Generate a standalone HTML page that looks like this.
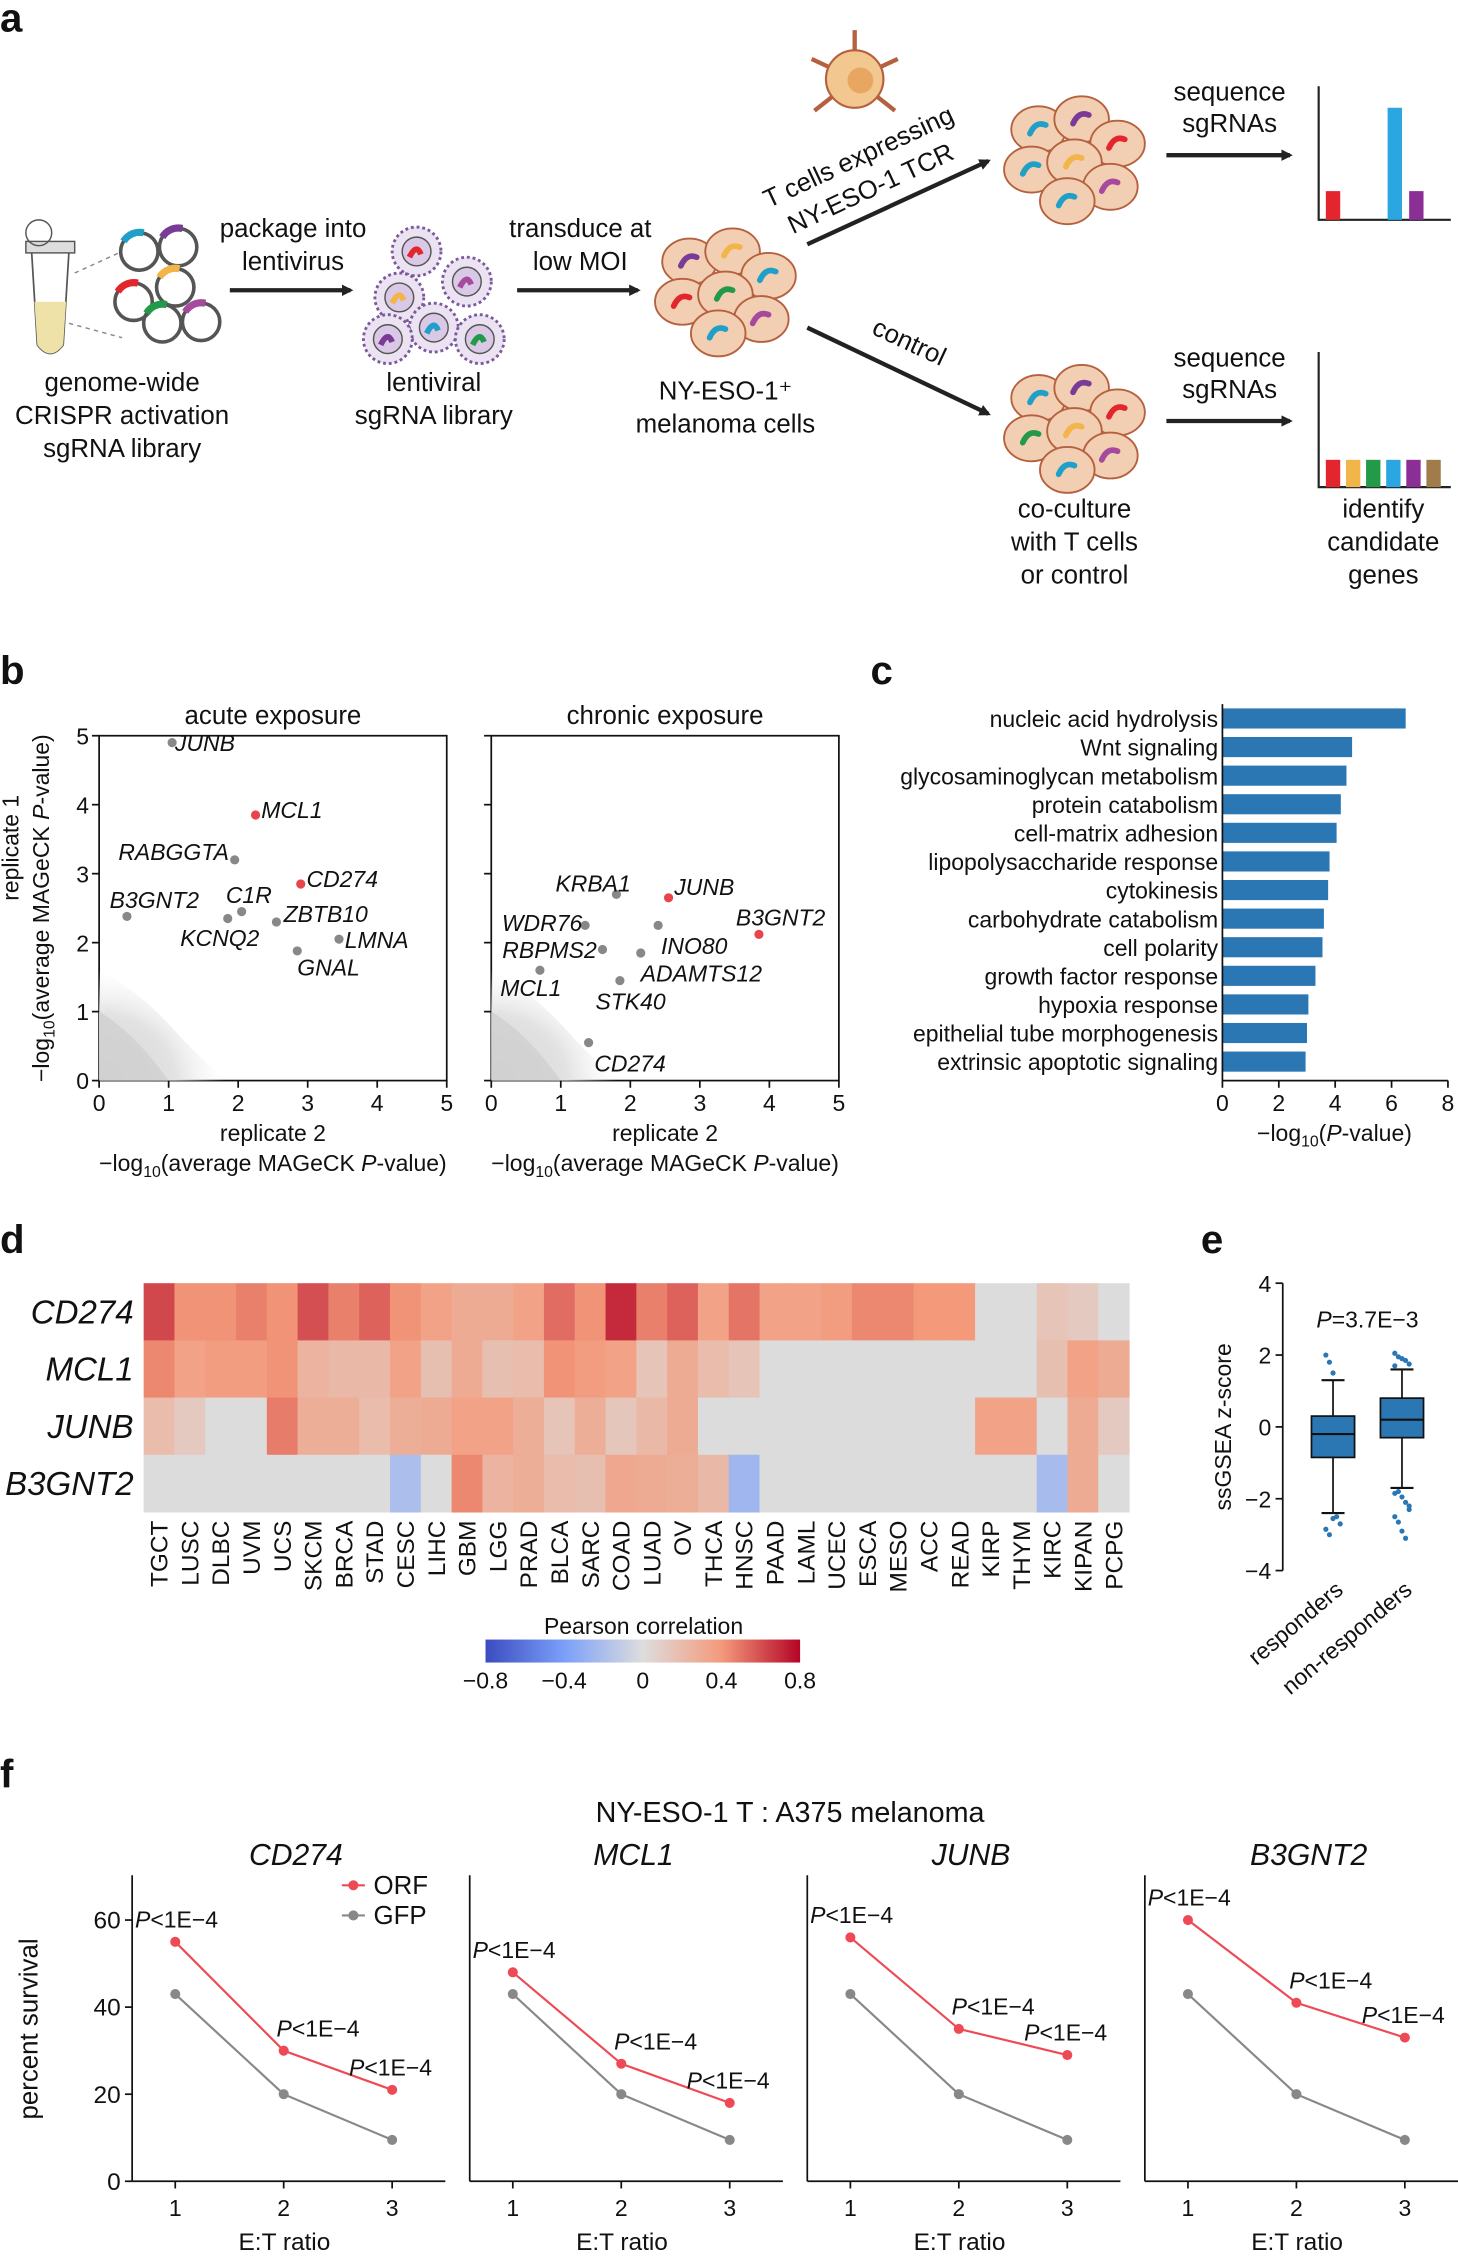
<!DOCTYPE html>
<html><head><meta charset="utf-8"><style>
html,body{margin:0;padding:0;background:#fff}
svg{display:block;font-family:"Liberation Sans",Arial,sans-serif}
</style></head><body>
<svg id="fig" width="1458" height="2256" viewBox="0 0 1015 1570" preserveAspectRatio="none" xmlns="http://www.w3.org/2000/svg">
<defs>
<marker id="ah" markerWidth="8" markerHeight="8" refX="6" refY="4" orient="auto" markerUnits="userSpaceOnUse" viewBox="0 0 8 8"><path d="M0,0 L8,4 L0,8 z" fill="#222"/></marker>
<linearGradient id="cbar" x1="0" x2="1" y1="0" y2="0">
<stop offset="0" stop-color="#3b4cc0"/><stop offset="0.25" stop-color="#7b9ff9"/><stop offset="0.5" stop-color="#dddddd"/><stop offset="0.75" stop-color="#f49a7b"/><stop offset="1" stop-color="#b40426"/></linearGradient>
<radialGradient id="cloud" cx="0" cy="1" r="1"><stop offset="0" stop-color="#d4d4d4"/><stop offset="0.6" stop-color="#e2e2e2"/><stop offset="1" stop-color="#f4f4f4" stop-opacity="0"/></radialGradient>
</defs>
<g id="root"></g>
</svg>
<script>
// ===== data arrays =====
const acuteGenes=["JUNB","MCL1","RABGGTA","CD274","B3GNT2","C1R","KCNQ2","ZBTB10","LMNA","GNAL"];
const acuteX=[1.05,2.25,1.95,2.9,0.4,2.05,1.85,2.55,3.45,2.85];
const acuteY=[4.9,3.85,3.2,2.85,2.38,2.45,2.35,2.3,2.05,1.88];
const acuteRed=[0,1,0,1,0,0,0,0,0,0];
const chronGenes=["KRBA1","JUNB","WDR76","INO80","B3GNT2","RBPMS2","ADAMTS12","MCL1","STK40","CD274"];
const chronX=[1.8,2.55,1.35,2.4,3.85,1.6,2.15,0.7,1.85,1.4];
const chronY=[2.7,2.65,2.25,2.25,2.12,1.9,1.85,1.6,1.45,0.55];
const chronRed=[0,1,0,0,1,0,0,0,0,0];
const goTerms=["nucleic acid hydrolysis","Wnt signaling","glycosaminoglycan metabolism","protein catabolism","cell-matrix adhesion","lipopolysaccharide response","cytokinesis","carbohydrate catabolism","cell polarity","growth factor response","hypoxia response","epithelial tube morphogenesis","extrinsic apoptotic signaling"];
const goValues=[6.5,4.6,4.4,4.2,4.05,3.8,3.75,3.6,3.55,3.3,3.05,3.0,2.95];
const cancers=["TGCT","LUSC","DLBC","UVM","UCS","SKCM","BRCA","STAD","CESC","LIHC","GBM","LGG","PRAD","BLCA","SARC","COAD","LUAD","OV","THCA","HNSC","PAAD","LAML","UCEC","ESCA","MESO","ACC","READ","KIRP","THYM","KIRC","KIPAN","PCPG"];
const heatGenes=["CD274","MCL1","JUNB","B3GNT2"];
const N=null;
const corCD274=[.62,.42,.42,.47,.42,.6,.47,.55,.42,.35,.3,.3,.35,.52,.42,.7,.47,.55,.35,.5,.35,.35,.38,.45,.45,.4,.4,N,N,.15,.12,N];
const corMCL1=[.45,.35,.38,.38,.42,.25,.22,.22,.35,.18,.3,.18,.2,.42,.38,.35,.15,.3,.2,.15,N,N,N,N,N,N,N,N,N,.18,.35,.3];
const corJUNB=[.2,.12,N,N,.48,.28,.28,.2,.28,.3,.35,.35,.28,.15,.28,.14,.22,.3,N,N,N,N,N,N,N,N,N,.35,.35,N,.3,.12];
const corB3GNT2=[N,N,N,N,N,N,N,N,-.2,N,.45,.25,.28,.2,.18,.32,.3,.28,.22,-.25,N,N,N,N,N,N,N,N,N,-.22,.3,N];
const boxLabels=["responders","non-responders"];
const boxQ1=[-0.85,-0.3],boxMed=[-0.2,0.2],boxQ3=[0.3,0.8],boxLo=[-2.4,-1.7],boxHi=[1.3,1.6];
const outR=[2.0,1.8,1.5,-2.5,-2.7,-2.85,-3.0,-2.55];
const outN=[2.05,1.95,1.9,1.85,1.75,1.7,-1.8,-1.95,-2.1,-2.3,-2.5,-2.65,-2.9,-3.1,-2.2,-1.85];
const survGenes=["CD274","MCL1","JUNB","B3GNT2"];
const etRatios=[1,2,3];
const orfCD274=[55,30,21],orfMCL1=[48,27,18],orfJUNB=[56,35,29],orfB3GNT2=[60,41,33];
const gfpVals=[43,20,9.5];
const yTicksF=[0,20,40,60];

// ===== helpers =====
const NS="http://www.w3.org/2000/svg";
const root=document.getElementById('root');
function E(tag,attrs,parent,txt){const e=document.createElementNS(NS,tag);for(const k in attrs)e.setAttribute(k,attrs[k]);if(txt!==undefined)e.textContent=txt;(parent||root).appendChild(e);return e;}
function T(x,y,s,size,opt,parent){opt=opt||{};const a={x:x,y:y,'font-size':size,fill:opt.fill||'#111'};if(opt.anchor)a['text-anchor']=opt.anchor;if(opt.italic)a['font-style']='italic';if(opt.bold)a['font-weight']='bold';if(opt.transform)a.transform=opt.transform;return E('text',a,parent,s);}
function L(x1,y1,x2,y2,c,w,parent){return E('line',{x1:x1,y1:y1,x2:x2,y2:y2,stroke:c||'#111','stroke-width':w||1.2},parent);}

// panel letters
[["a",0,22],["b",0,476],["c",606,476],["d",0,872],["e",836,872],["f",0,1244]].forEach(p=>{const t=T(p[1],p[2],p[0],28,{bold:true});});

// ===== panel a =====
const ga=E('g',{},root);
E('path',{d:"M22,175 L48,175 L44,240 Q35,252 26,240 Z",fill:"#fff",stroke:"#555","stroke-width":1.2},ga);
E('path',{d:"M24,210 L46,210 L44,240 Q35,252 26,240 Z",fill:"#efe2a8"},ga);
E('rect',{x:18,y:168,width:34,height:8,fill:"#ddd",stroke:"#555"},ga);
E('circle',{cx:27,cy:162,r:9,fill:"none",stroke:"#555"},ga);
L(52,190,85,175,"#888",1,ga).setAttribute('stroke-dasharray','3,3');
L(48,225,85,235,"#888",1,ga).setAttribute('stroke-dasharray','3,3');
[[97,175,"#20a0c8"],[124,172,"#7a3b96"],[122,200,"#f1b54a"],[93,210,"#e3262e"],[113,225,"#239a48"],[140,224,"#a64a9c"]].forEach(c=>{E('circle',{cx:c[0],cy:c[1],r:13,fill:"none",stroke:"#555","stroke-width":2.5},ga);E('path',{d:`M${c[0]-11},${c[1]-7} A13,13 0 0 1 ${c[0]+3},${c[1]-13}`,fill:"none",stroke:c[2],"stroke-width":5},ga);});
T(85,272,"genome-wide",18,{anchor:'middle'},ga);T(85,295,"CRISPR activation",18,{anchor:'middle'},ga);T(85,318,"sgRNA library",18,{anchor:'middle'},ga);
E('line',{x1:160,y1:202,x2:244,y2:202,stroke:"#222","stroke-width":3,'marker-end':'url(#ah)'},ga);
T(204,165,"package into",18,{anchor:'middle'},ga);T(204,188,"lentivirus",18,{anchor:'middle'},ga);
[[290,175,"#e3262e"],[325,196,"#a64a9c"],[278,207,"#f1b54a"],[302,228,"#20a0c8"],[270,236,"#7a3b96"],[334,236,"#239a48"]].forEach(v=>{E('circle',{cx:v[0],cy:v[1],r:17,fill:"#ece3f2",stroke:"#7a5a9c","stroke-width":2,'stroke-dasharray':'2,2'},ga);E('circle',{cx:v[0],cy:v[1],r:10,fill:"#d9c8e6",stroke:"#555"},ga);E('path',{d:`M${v[0]-5},${v[1]+4} q5,-10 8,-2`,stroke:v[2],'stroke-width':4,fill:'none'},ga);});
T(302,272,"lentiviral",18,{anchor:'middle'},ga);T(302,295,"sgRNA library",18,{anchor:'middle'},ga);
E('line',{x1:360,y1:202,x2:444,y2:202,stroke:"#222","stroke-width":3,'marker-end':'url(#ah)'},ga);
T(404,165,"transduce at",18,{anchor:'middle'},ga);T(404,188,"low MOI",18,{anchor:'middle'},ga);
function cluster(cx,cy,cols){const pos=[[-25,-18],[5,-25],[30,-8],[-30,10],[0,5],[25,22],[-5,32]];pos.forEach((p,i)=>{E('ellipse',{cx:cx+p[0],cy:cy+p[1],rx:19,ry:16,fill:"#f2cfb2",stroke:"#b5603e","stroke-width":1.3},ga);E('path',{d:`M${cx+p[0]-6},${cy+p[1]+3} q4,-9 11,-6`,stroke:cols[i%cols.length],'stroke-width':4,fill:'none','stroke-linecap':'round'},ga);});}
cluster(505,200,["#7a3b96","#f1b54a","#20a0c8","#e3262e","#239a48","#a64a9c","#20a0c8"]);
T(505,278,"NY-ESO-1⁺",18,{anchor:'middle'},ga);T(505,301,"melanoma cells",18,{anchor:'middle'},ga);
E('line',{x1:562,y1:170,x2:688,y2:112,stroke:"#222","stroke-width":3,'marker-end':'url(#ah)'},ga);
E('line',{x1:562,y1:228,x2:688,y2:288,stroke:"#222","stroke-width":3,'marker-end':'url(#ah)'},ga);
T(0,0,"T cells expressing",18,{transform:'translate(535,145) rotate(-25)'},ga);
T(0,0,"NY-ESO-1 TCR",18,{transform:'translate(552,163) rotate(-25)'},ga);
T(0,0,"control",18,{transform:'translate(606,232) rotate(25)'},ga);
[[0,-34],[30,-14],[28,22],[-28,22],[-30,-14]].forEach(b=>{L(595,55,595+b[0],55+b[1],"#b5603e",3,ga);});
E('circle',{cx:595,cy:55,r:20,fill:"#f3c790",stroke:"#b5603e","stroke-width":1.5},ga);
E('circle',{cx:599,cy:56,r:9,fill:"#e7a760"},ga);
cluster(748,108,["#20a0c8","#7a3b96","#e3262e","#20a0c8","#f1b54a","#a64a9c","#20a0c8"]);
cluster(748,295,["#20a0c8","#7a3b96","#e3262e","#239a48","#f1b54a","#a64a9c","#20a0c8"]);
T(748,360,"co-culture",18,{anchor:'middle'},ga);T(748,383,"with T cells",18,{anchor:'middle'},ga);T(748,406,"or control",18,{anchor:'middle'},ga);
E('line',{x1:812,y1:108,x2:898,y2:108,stroke:"#222","stroke-width":3,'marker-end':'url(#ah)'},ga);
E('line',{x1:812,y1:293,x2:898,y2:293,stroke:"#222","stroke-width":3,'marker-end':'url(#ah)'},ga);
T(856,70,"sequence",18,{anchor:'middle'},ga);T(856,92,"sgRNAs",18,{anchor:'middle'},ga);
T(856,255,"sequence",18,{anchor:'middle'},ga);T(856,277,"sgRNAs",18,{anchor:'middle'},ga);
E('path',{d:"M918,60 L918,153 L1010,153",fill:"none",stroke:"#222","stroke-width":1.5},ga);
E('rect',{x:923,y:133,width:10,height:20,fill:"#e3262e"},ga);E('rect',{x:966,y:75,width:10,height:78,fill:"#2aa7e0"},ga);E('rect',{x:981,y:133,width:10,height:20,fill:"#8b2f97"},ga);
E('path',{d:"M918,245 L918,339 L1010,339",fill:"none",stroke:"#222","stroke-width":1.5},ga);
["#e3262e","#f1b54a","#239a48","#2aa7e0","#8b2f97","#a07c4a"].forEach((c,i)=>E('rect',{x:923+i*14,y:320,width:10,height:19,fill:c},ga));
T(963,360,"identify",18,{anchor:'middle'},ga);T(963,383,"candidate",18,{anchor:'middle'},ga);T(963,406,"genes",18,{anchor:'middle'},ga);

// ===== panel b =====
function scatter(x0,title,genes,xs,ys,reds,name,labelOff){
 const g=E('g',{},root);
 const W=242,y0=752,H=240;const sx=v=>x0+v/5*W,sy=v=>y0-v/5*H;
 E('rect',{x:x0,y:y0-H,width:W,height:H,fill:"none",stroke:"#111","stroke-width":1.2},g);
 E('path',{d:`M${sx(0)},${sy(0)} L${sx(0)},${sy(1.6)} Q${sx(0.6)},${sy(1.3)} ${sx(1.2)},${sy(0.6)} L${sx(1.8)},${sy(0)} Z`,fill:"url(#cloud)"},g);
 E('path',{d:`M${sx(0)},${sy(0)} L${sx(0)},${sy(1.0)} Q${sx(0.5)},${sy(0.7)} ${sx(1.0)},${sy(0)} Z`,fill:"#d0d0d0",opacity:0.8},g);
 for(let i=0;i<=5;i++){L(sx(i),y0,sx(i),y0+5,"#111",1.2,g);T(sx(i),y0+21,String(i),16,{anchor:'middle'},g);L(x0-5,sy(i),x0,sy(i),"#111",1.2,g);}
 T(x0+W/2,y0-H-8,title,18,{anchor:'middle'},g);
 genes.forEach((gn,i)=>{const c=E('circle',{cx:sx(xs[i]),cy:sy(ys[i]),r:3.2,fill:reds[i]?"#e8454a":"#888"},g);
  const o=labelOff[i];T(sx(xs[i])+o[0],sy(ys[i])+o[1],gn,16,{italic:true,anchor:o[2]||'start'},g);});
}
scatter(69,"acute exposure",acuteGenes,acuteX,acuteY,acuteRed,"scatter-acute",[[2,6],[4,2],[-4,0,'end'],[4,2],[-12,-6],[-11,-6],[22,19,'end'],[5,0],[4,6],[0,17]]);
for(let i=0;i<=5;i++)T(62,752-i*48+6,String(i),16,{anchor:'end'});
scatter(342,"chronic exposure",chronGenes,chronX,chronY,chronRed,"scatter-chronic",[[10,-2,'end'],[4,-2],[-2,4,'end'],[2,20],[-16,-6],[-4,6,'end'],[0,20],[15,18,'end'],[-17,20],[4,20]]);
T(190,794,"replicate 2",16,{anchor:'middle'});T(463,794,"replicate 2",16,{anchor:'middle'});
function pLabel(cx,y){const t=E('text',{x:cx,y:y,'font-size':16,'text-anchor':'middle',fill:'#111'});t.innerHTML='−log<tspan font-size="11" dy="4">10</tspan><tspan dy="-4">(average MAGeCK </tspan><tspan font-style="italic">P</tspan>-value)';return t;}
pLabel(190,815);pLabel(463,815);
T(0,0,"replicate 1",16,{anchor:'middle',transform:'translate(13,590) rotate(-90)'});
(function(){const t=E('text',{x:0,y:0,'font-size':16,'text-anchor':'middle',fill:'#111',transform:'translate(34,632) rotate(-90)'});t.innerHTML='−log<tspan font-size="11" dy="4">10</tspan><tspan dy="-4">(average MAGeCK </tspan><tspan font-style="italic">P</tspan>-value)';})();

// ===== panel c =====
(function(){const g=E('g',{},root);
 const x0=851,x1=1008,yTop=490,step=19.9;const sx=v=>x0+v/8*(x1-x0);
 goTerms.forEach((t,i)=>{const yc=yTop+10+i*step;const r=E('rect',{x:x0,y:yc-7,width:sx(goValues[i])-x0,height:14,fill:"#2a77b4"},g);T(x0-3,yc+6,t,16,{anchor:'end'},g);});
 L(x0,yTop,x0,752,"#111",1.2,g);L(x0,752,x1,752,"#111",1.2,g);
 [0,2,4,6,8].forEach(v=>{L(sx(v),752,sx(v),757,"#111",1.2,g);T(sx(v),773,String(v),16,{anchor:'middle'},g);});
 const t=E('text',{x:929,y:794,'font-size':16,'text-anchor':'middle',fill:'#111'},g);t.innerHTML='−log<tspan font-size="11" dy="4">10</tspan><tspan dy="-4">(</tspan><tspan font-style="italic">P</tspan>-value)';
})();

// ===== panel d =====
function corColor(v){if(v===null)return "#dcdcdc";const stops=[[-0.8,[59,76,192]],[-0.4,[123,159,249]],[0,[221,221,221]],[0.4,[244,154,123]],[0.8,[180,4,38]]];
 for(let i=0;i<stops.length-1;i++){const a=stops[i],b=stops[i+1];if(v<=b[0]){const t=(v-a[0])/(b[0]-a[0]);const c=a[1].map((x,j)=>Math.round(x+(b[1][j]-x)*t));return `rgb(${c})`;}}return "rgb(180,4,38)";}
(function(){const g=E('g',{},root);
 const rows=[corCD274,corMCL1,corJUNB,corB3GNT2];const x0=100,x1=786,y0=893,rh=39.8;const cw=(x1-x0)/cancers.length;
 rows.forEach((row,r)=>{row.forEach((v,c)=>{const rc=E('rect',{x:x0+c*cw,y:y0+r*rh,width:cw+0.4,height:rh+0.4,fill:corColor(v)},g);});
  T(93,y0+r*rh+28,heatGenes[r],23,{italic:true,anchor:'end'},g);});
 cancers.forEach((c,i)=>{T(0,0,c,17,{anchor:'end',transform:`translate(${x0+i*cw+cw/2+6},${y0+4*rh+6}) rotate(-90)`},g);});
 E('rect',{x:338,y:1141,width:219,height:16,fill:"url(#cbar)"},g);
 T(448,1137,"Pearson correlation",16,{anchor:'middle'},g);
 ["−0.8","−0.4","0","0.4","0.8"].forEach((s,i)=>T(338+i*219/4,1175,s,16,{anchor:'middle'},g));
})();

// ===== panel e =====
(function(){const g=E('g',{},root);
 const ax=893,sy=v=>993-v*25;const xs=[928,976];
 L(ax,sy(4),ax,sy(-4),"#111",1.2,g);[4,2,0,-2,-4].forEach(v=>{L(ax-5,sy(v),ax,sy(v),"#111",1.2,g);T(ax-8,sy(v)+6,v<0?"−"+Math.abs(v):String(v),16,{anchor:'end'},g);});
 T(0,0,"ssGSEA z-score",16,{anchor:'middle',transform:'translate(857,993) rotate(-90)'},g);
 const tp=E('text',{x:952,y:924,'font-size':16,'text-anchor':'middle',fill:'#111'},g);tp.innerHTML='<tspan font-style="italic">P</tspan>=3.7E−3';
 xs.forEach((x,i)=>{L(x,sy(boxHi[i]),x,sy(boxLo[i]),"#111",1.2,g);L(x-8,sy(boxHi[i]),x+8,sy(boxHi[i]),"#111",1.5,g);L(x-8,sy(boxLo[i]),x+8,sy(boxLo[i]),"#111",1.5,g);
  const b=E('rect',{x:x-15,y:sy(boxQ3[i]),width:30,height:sy(boxQ1[i])-sy(boxQ3[i]),fill:"#2a77b4",stroke:"#111","stroke-width":1.2},g);
  L(x-15,sy(boxMed[i]),x+15,sy(boxMed[i]),"#111",1.5,g);
  (i?outN:outR).forEach((v,k)=>E('circle',{cx:x+((k%5)-2)*2.5,cy:sy(v),r:1.8,fill:"#2a77b4"},g));
  T(0,0,boxLabels[i],16,{anchor:'end',transform:`translate(${x+8},${1108}) rotate(-40)`},g);});
})();

// ===== panel f =====
T(550,1268,"NY-ESO-1 T : A375 melanoma",20,{anchor:'middle'});
const orfAll=[orfCD274,orfMCL1,orfJUNB,orfB3GNT2];
const pOff=[-28,-5,-30];
survGenes.forEach((gn,k)=>{const g=E('g',{},root);
 const ax=92+k*235;const sx=v=>ax+30+(v-1)*75.5,sy=v=>1518-v*3.03;
 L(ax,1305,ax,1518,"#111",1.2,g);L(ax,1518,ax+218,1518,"#111",1.2,g);
 etRatios.forEach(v=>{L(sx(v),1518,sx(v),1523,"#111",1.2,g);T(sx(v),1542,String(v),16,{anchor:'middle'},g);});
 T(ax+106,1566,"E:T ratio",17,{anchor:'middle'},g);
 if(k===0)yTicksF.forEach(v=>{L(ax-5,sy(v),ax,sy(v),"#111",1.2,g);T(ax-8,sy(v)+6,String(v),17,{anchor:'end'},g);});
 T(ax+114,1298,gn,21,{italic:true,anchor:'middle'},g);
 const orf=orfAll[k];
 E('polyline',{points:etRatios.map((v,i)=>sx(v)+','+sy(gfpVals[i])).join(' '),fill:'none',stroke:'#888','stroke-width':1.5},g);
 E('polyline',{points:etRatios.map((v,i)=>sx(v)+','+sy(orf[i])).join(' '),fill:'none',stroke:'#ee4a55','stroke-width':1.5},g);
 etRatios.forEach((v,i)=>{const c1=E('circle',{cx:sx(v),cy:sy(gfpVals[i]),r:3.5,fill:'#888'},g);
  const c2=E('circle',{cx:sx(v),cy:sy(orf[i]),r:3.5,fill:'#ee4a55'},g);
  const t=E('text',{x:sx(v)+pOff[i],y:sy(orf[i])-10,'font-size':16,fill:'#111'},g);t.innerHTML='<tspan font-style="italic">P</tspan>&lt;1E−4';});
 if(k===0){L(238,1312,254,1312,'#ee4a55',1.5,g);E('circle',{cx:246,cy:1312,r:3.5,fill:'#ee4a55'},g);T(260,1318,"ORF",18,{},g);
  L(238,1333,254,1333,'#888',1.5,g);E('circle',{cx:246,cy:1333,r:3.5,fill:'#888'},g);T(260,1339,"GFP",18,{},g);}
});
T(0,0,"percent survival",18,{anchor:'middle',transform:'translate(26,1412) rotate(-90)'});
</script>
</body></html>
